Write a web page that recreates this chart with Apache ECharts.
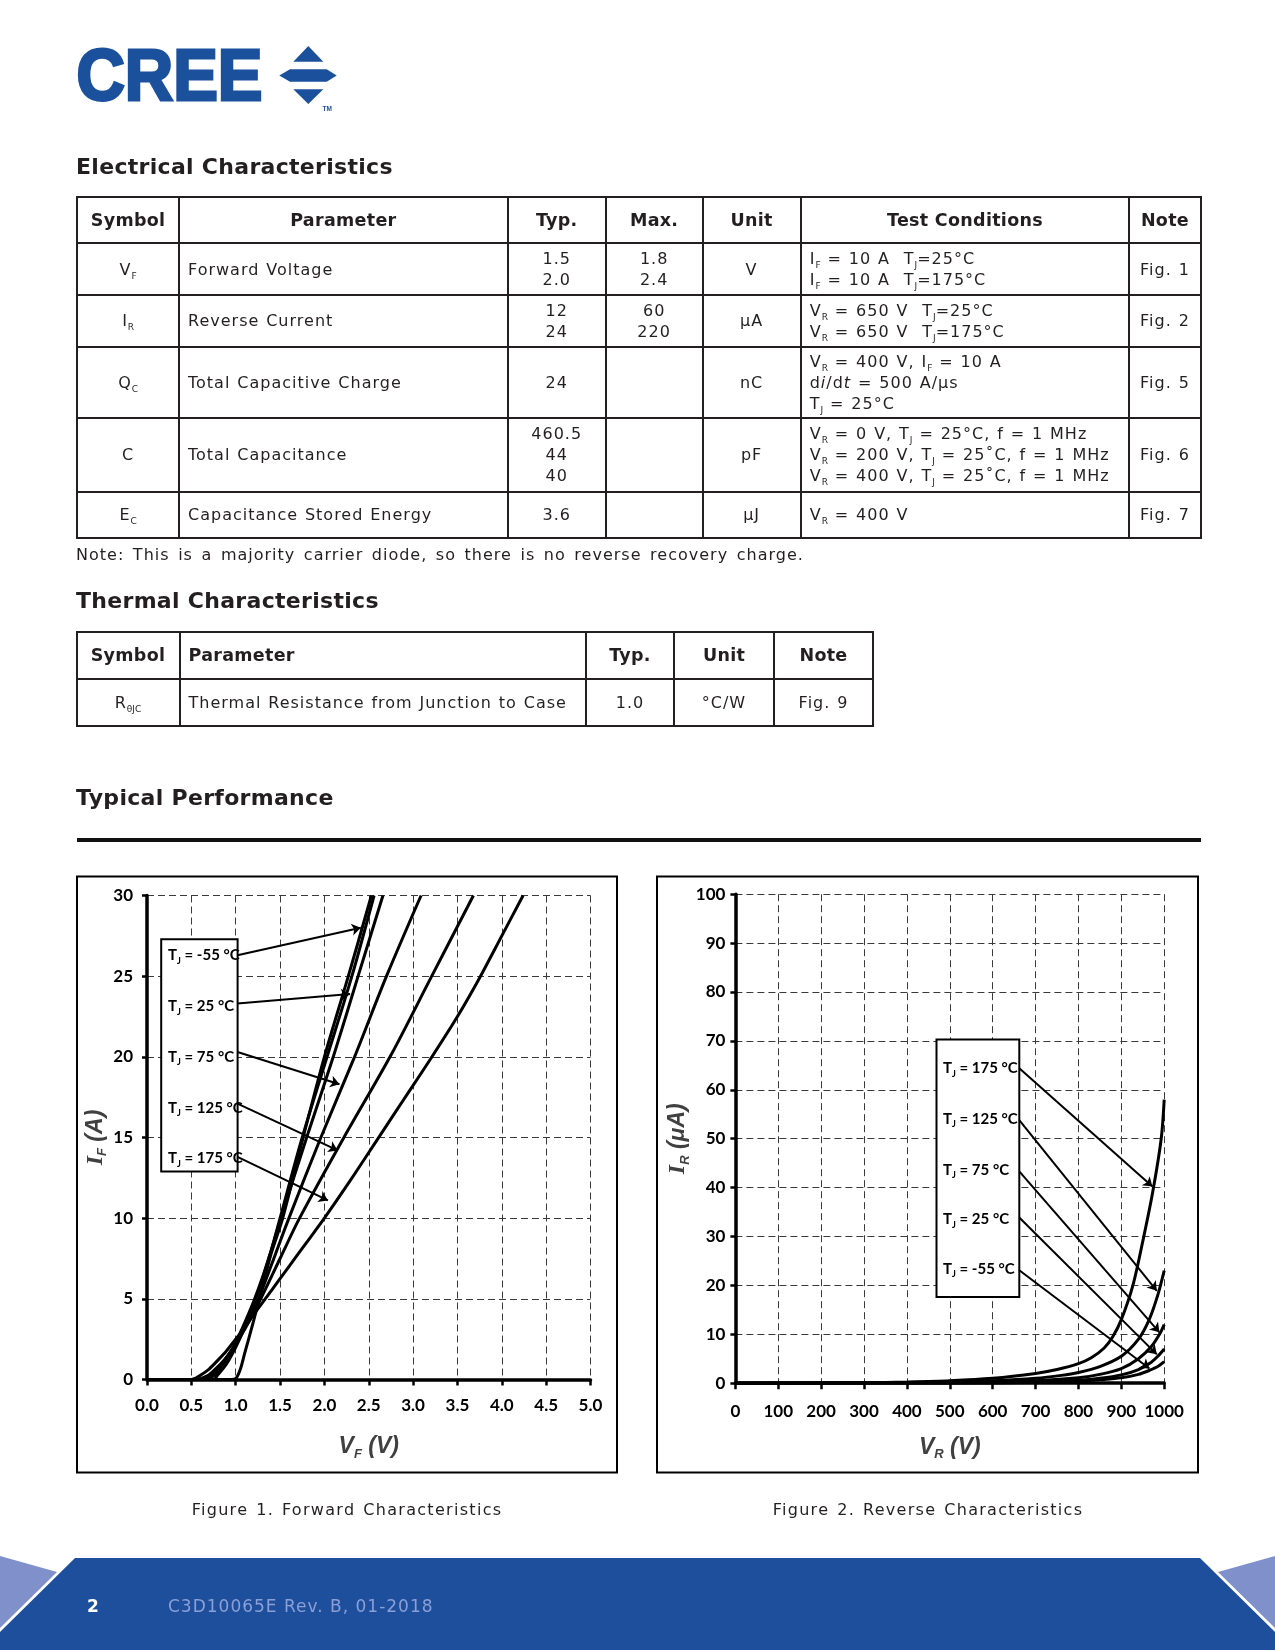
<!DOCTYPE html>
<html>
<head>
<meta charset="utf-8">
<title>C3D10065E – Electrical Characteristics and Typical Performance</title>
<script src="https://cdn.jsdelivr.net/npm/echarts@6.0.0/dist/echarts.min.js"></script>
<style>
  html, body { margin:0; padding:0; background:#fff; }
  #page { position:relative; width:1275px; height:1650px; overflow:hidden; color:#231f20;
          font-family:'DejaVu Sans', Verdana, sans-serif; }
  #chart { position:absolute; left:0; top:0; width:1275px; height:1650px; }
  .t { position:absolute; white-space:nowrap; }
  .head { font-family:'DejaVu Sans', Verdana, sans-serif; font-weight:700; font-size:22px; letter-spacing:0.3px; line-height:30px; height:30px; color:#231f20; }
  .cell { position:absolute; display:flex; align-items:center; font-size:16px; letter-spacing:1px; word-spacing:0.8px; }
  .cell > div { line-height:21px; white-space:nowrap; }
  .hdr { font-weight:bold; font-size:17.5px; letter-spacing:0.3px; word-spacing:0; }
  sub { font-size:9px; vertical-align:-4px; line-height:0; letter-spacing:0; }
  .ln { position:absolute; background:#231f20; }
  .body16 { font-size:16px; letter-spacing:1px; word-spacing:2.5px; line-height:21px; }
  .cap { font-size:16px; letter-spacing:1.3px; word-spacing:1.5px; line-height:21px; text-align:center; width:400px; }
</style>
</head>
<body>
<div id="page">
  <div id="chart"></div>

  <!-- Logo -->
  <svg class="t" style="left:0;top:0" width="400" height="130">
    <text x="76.5" y="100" font-family="'Liberation Sans', Arial, sans-serif" font-weight="bold" font-size="72"
          textLength="186" lengthAdjust="spacingAndGlyphs" fill="#1b519c" stroke="#1b519c" stroke-width="3">CREE</text>
    <polygon points="308.3,46 323.3,61.7 293.3,61.7" fill="#1b519c"/>
    <polygon points="279.3,75.5 290,69.3 326.7,69.3 336.7,75.5 326.7,81.7 290,81.7" fill="#1b519c"/>
    <polygon points="293.3,89.3 323.3,89.3 308.3,104" fill="#1b519c"/>
    <text x="322.5" y="110.5" font-family="'Liberation Sans', Arial, sans-serif" font-weight="bold" font-size="6.5" fill="#1b519c">TM</text>
  </svg>

  <div class="t head" style="left:76px;top:151.9px">Electrical Characteristics</div>
  <div id="tbl1"></div>
  <div class="t body16" style="left:76px;top:544px">Note: This is a majority carrier diode, so there is no reverse recovery charge.</div>

  <div class="t head" style="left:76px;top:585.9px">Thermal Characteristics</div>
  <div id="tbl2"></div>

  <div class="t head" style="left:76px;top:782.8px">Typical Performance</div>
  <div class="ln" style="left:77px;top:837.7px;width:1123.6px;height:4px;background:#111"></div>

  <div class="t cap" style="left:147px;top:1499px">Figure 1. Forward Characteristics</div>
  <div class="t cap" style="left:728px;top:1499px">Figure 2. Reverse Characteristics</div>

  <!-- Footer -->
  <svg class="t" style="left:0;top:1540px" width="1275" height="110">
    <polygon points="0,16 57,32 0,88" fill="#7f90ca"/>
    <polygon points="1275,16 1218,32 1275,88" fill="#7f90ca"/>
    <polygon points="75,18 1200,18 1275,92 1275,110 0,110 0,92" fill="#1e4f9c"/>
  </svg>
  <div class="t" style="left:87px;top:1595px;font-size:17px;font-weight:bold;color:#fff;line-height:23px">2</div>
  <div class="t" style="left:168px;top:1595px;font-size:17px;letter-spacing:1px;color:#8c9fd6;line-height:23px">C3D10065E Rev. B, 01-2018</div>
</div>

<script>
// ---------------- Table contents ----------------
const elecHeader = ['Symbol', 'Parameter', 'Typ.', 'Max.', 'Unit', 'Test Conditions', 'Note'];
const elecRows = [
  ['V<sub>F</sub>', 'Forward Voltage', '1.5<br>2.0', '1.8<br>2.4', 'V',
   'I<sub>F</sub> = 10 A&nbsp; T<sub>J</sub>=25°C<br>I<sub>F</sub> = 10 A&nbsp; T<sub>J</sub>=175°C', 'Fig. 1'],
  ['I<sub>R</sub>', 'Reverse Current', '12<br>24', '60<br>220', 'μA',
   'V<sub>R</sub> = 650 V&nbsp; T<sub>J</sub>=25°C<br>V<sub>R</sub> = 650 V&nbsp; T<sub>J</sub>=175°C', 'Fig. 2'],
  ['Q<sub>C</sub>', 'Total Capacitive Charge', '24', '', 'nC',
   'V<sub>R</sub> = 400 V, I<sub>F</sub> = 10 A<br>d<i>i</i>/d<i>t</i> = 500 A/μs<br>T<sub>J</sub> = 25°C', 'Fig. 5'],
  ['C', 'Total Capacitance', '460.5<br>44<br>40', '', 'pF',
   'V<sub>R</sub> = 0 V, T<sub>J</sub> = 25°C, f = 1 MHz<br>V<sub>R</sub> = 200 V, T<sub>J</sub> = 25˚C, f = 1 MHz<br>V<sub>R</sub> = 400 V, T<sub>J</sub> = 25˚C, f = 1 MHz', 'Fig. 6'],
  ['E<sub>C</sub>', 'Capacitance Stored Energy', '3.6', '', 'μJ', 'V<sub>R</sub> = 400 V', 'Fig. 7']
];
const thermHeader = ['Symbol', 'Parameter', 'Typ.', 'Unit', 'Note'];
const thermRows = [
  ['R<sub>θJC</sub>', 'Thermal Resistance from Junction to Case', '1.0', '°C/W', 'Fig. 9']
];

// table layout (page pixels)
const elecLayout = {
  cols: [77.3, 179, 507.7, 605.8, 702.5, 800.7, 1129.3, 1200.6],
  rows: [197.3, 243.3, 295, 346.7, 418.3, 491.7, 538.3],
  align: ['center', 'left', 'center', 'center', 'center', 'left', 'center'],
  headAlign: ['center', 'center', 'center', 'center', 'center', 'center', 'center']
};
const thermLayout = {
  cols: [76.5, 179.5, 586, 674, 774, 873],
  rows: [631.5, 679, 725.5],
  align: ['center', 'left', 'center', 'center', 'center'],
  headAlign: ['center', 'left', 'center', 'center', 'center']
};

function buildTable(host, layout, header, rows) {
  const el = document.getElementById(host);
  const { cols, rows: rEdges } = layout;
  let html = '';
  const top = rEdges[0], bottom = rEdges[rEdges.length - 1];
  const left = cols[0], right = cols[cols.length - 1];
  cols.forEach(x => { html += `<div class="ln" style="left:${x - 1}px;top:${top - 1}px;width:2px;height:${bottom - top + 2}px"></div>`; });
  rEdges.forEach(y => { html += `<div class="ln" style="left:${left - 1}px;top:${y - 1}px;width:${right - left + 2}px;height:2px"></div>`; });
  const all = [header].concat(rows);
  all.forEach((row, r) => {
    row.forEach((txt, c) => {
      const al = r === 0 ? layout.headAlign[c] : layout.align[c];
      const pad = al === 'left' ? 9 : 2;
      const x0 = cols[c] + pad, w = cols[c + 1] - cols[c] - pad - 2;
      const y0 = rEdges[r], h = rEdges[r + 1] - rEdges[r];
      const jc = al === 'left' ? 'flex-start' : 'center';
      html += `<div class="cell ${r === 0 ? 'hdr' : ''}" style="left:${x0}px;top:${y0}px;width:${w}px;height:${h}px;justify-content:${jc};text-align:${al}"><div>${txt}</div></div>`;
    });
  });
  el.innerHTML = html;
}
buildTable('tbl1', elecLayout, elecHeader, elecRows);
buildTable('tbl2', thermLayout, thermHeader, thermRows);

// ---------------- Figure 1: Forward characteristics [VF (V), IF (A)] ----------------
const fwdTjM55 = [[0,0],[0.95,0],[1.0,0.05],[1.05,0.6],[1.1,1.6],[1.2,3.6],[1.3,5.7],[1.4,7.8],[1.53,10],[1.76,15],[2.0,20],[2.27,25],[2.53,30]];
const fwdTj25  = [[0,0],[0.75,0],[0.8,0.3],[0.9,1.0],[1.0,2.0],[1.1,3.2],[1.2,4.6],[1.3,6.2],[1.4,8.0],[1.5,10],[1.75,15],[2.03,20],[2.31,25],[2.56,30]];
const fwdTjB    = [[0,0],[0.68,0],[0.72,0.1],[0.8,0.5],[0.9,1.3],[1.0,2.3],[1.1,3.5],[1.2,4.8],[1.3,6.3],[1.4,8.0],[1.51,10],[1.8,15],[2.1,20],[2.38,25],[2.66,30]];
const fwdTj75  = [[0,0],[0.62,0],[0.66,0.05],[0.7,0.2],[0.8,0.7],[0.9,1.4],[1.0,2.2],[1.1,3.2],[1.2,4.3],[1.3,5.6],[1.45,7.8],[1.6,10],[1.96,15],[2.34,20],[2.70,25],[3.09,30]];
const fwdTj125 = [[0,0],[0.56,0],[0.6,0.05],[0.7,0.3],[0.8,0.8],[0.9,1.4],[1.0,2.2],[1.1,3.1],[1.2,4.1],[1.3,5.2],[1.5,7.5],[1.72,10],[2.22,15],[2.74,20],[3.21,25],[3.68,30]];
const fwdTj175 = [[0,0],[0.5,0],[0.55,0.08],[0.6,0.25],[0.7,0.65],[0.8,1.2],[0.9,1.8],[1.0,2.5],[1.1,3.2],[1.2,4.0],[1.4,5.5],[1.6,7.0],[1.8,8.5],[2.0,10],[2.3,12.4],[2.6,14.9],[2.9,17.4],[3.2,19.9],[3.5,22.5],[3.76,25],[4.0,27.5],[4.24,30]];
const fwdLegend = ['-55', '25', '75', '125', '175'];
// annotation arrows: [V start, I start, V tip, I tip]
const fwdArrows = [[1.02,26.3,2.41,28.0],[1.02,23.3,2.29,23.9],[1.02,20.3,2.17,18.3],[1.02,17.1,2.15,14.2],[1.02,13.8,2.04,11.1]];

// ---------------- Figure 2: Reverse characteristics [VR (V), IR (µA)] ----------------
const revTj175 = [[0,0],[100,0.02],[200,0.05],[300,0.1],[400,0.25],[500,0.5],[600,1.0],[700,2.0],[750,2.8],[800,4.0],[830,5.2],[860,7.2],[880,9.5],[900,13],[927,20],[950,29],[973,39],[993,50],[1000,58]];
const revTj125 = [[0,0],[300,0.05],[400,0.1],[500,0.25],[600,0.5],[700,1.0],[760,1.6],[800,2.2],[850,3.4],[900,5.5],[940,9.0],[965,13],[985,18],[1000,23]];
const revTj75  = [[0,0],[400,0.05],[500,0.1],[600,0.25],[700,0.5],[800,1.1],[850,1.8],[900,3.0],[940,5.0],[970,7.5],[989,10],[1000,12]];
const revTj25  = [[0,0],[500,0.05],[600,0.1],[700,0.25],[800,0.6],[850,1.0],[900,1.7],[940,2.8],[970,4.3],[985,5.5],[1000,7]];
const revTjM55 = [[0,0],[600,0.05],[700,0.15],[800,0.4],[850,0.7],[900,1.1],[940,1.8],[965,2.6],[985,3.4],[1000,4.4]];
const revLegend = ['175', '125', '75', '25', '-55'];
const revArrows = [[662,64.4,972.5,40.2],[662,53.8,982.7,18.9],[662,43.3,988.8,10.4],[662,33.9,982.7,5.9],[662,23.1,965.5,3.0]];

// ---------------- Chart ----------------
const numFont = "Lato, 'Liberation Sans', Arial, sans-serif";
const chart = echarts.init(document.getElementById('chart'), null, { renderer: 'canvas' });

function curve(name, data, idx) {
  return { name, type: 'line', xAxisIndex: idx, yAxisIndex: idx, data, showSymbol: false,
           smooth: 0.3, lineStyle: { color: '#000', width: 3 },
           z: 150, silent: true, animation: false, clip: true };
}
function arrows(list, idx) {
  return { type: 'lines', coordinateSystem: 'cartesian2d', xAxisIndex: idx, yAxisIndex: idx,
           symbol: ['none', 'arrow'], symbolSize: [0, 9],
           lineStyle: { color: '#000', width: 2, opacity: 1, curveness: 0 },
           data: list.map(a => ({ coords: [[a[0], a[1]], [a[2], a[3]]] })),
           z: 200, silent: true, animation: false };
}
const split = { show: true, lineStyle: { color: '#3a3a3a', width: 1, type: [7, 4] } };
const axLine = { show: true, onZero: false, lineStyle: { color: '#000', width: 3.5 } };
const tick = { show: true, length: 6, lineStyle: { color: '#000', width: 2.5 } };
const lab = { color: '#000', fontWeight: 'bold', fontSize: 17, fontFamily: numFont, showMinLabel: true, showMaxLabel: true };
const nameRich = {
  a: { fontSize: 23, fontWeight: 'bold', fontStyle: 'italic', fontFamily: "'Liberation Sans', Arial, sans-serif", color: '#404040', lineHeight: 28 },
  i: { fontSize: 24, fontWeight: 'bold', fontStyle: 'italic', fontFamily: "'Liberation Serif', 'DejaVu Serif', serif", color: '#404040', lineHeight: 28 },
  b: { fontSize: 13, fontWeight: 'bold', fontStyle: 'italic', fontFamily: "'Liberation Sans', Arial, sans-serif", color: '#404040', lineHeight: 13, verticalAlign: 'bottom' }
};
const legRich = {
  a: { fontSize: 15, fontWeight: 'bold', fontFamily: numFont, color: '#000', lineHeight: 20 },
  b: { fontSize: 9, fontWeight: 'bold', fontFamily: numFont, color: '#000', lineHeight: 9, verticalAlign: 'bottom' }
};
function legendText(t, x, y) {
  return { type: 'text', z: 120, silent: true,
           style: { text: `{a|T}{b|J}{a| = ${t} °C}`, x, y, verticalAlign: 'middle', align: 'left', rich: legRich } };
}
function rect(x, y, w, h, fill, lw) {
  return { type: 'rect', z: 100, silent: true, shape: { x, y, width: w, height: h },
           style: { fill, stroke: '#000', lineWidth: lw } };
}

const fwdLegendY = [955.4, 1006.3, 1057, 1107.7, 1158.2];
const revLegendY = [1068.3, 1119, 1169.7, 1219.4, 1269];

const graphics = [
  rect(77, 876.5, 540, 596, 'rgba(0,0,0,0)', 2),
  rect(657, 876.5, 541, 596, 'rgba(0,0,0,0)', 2),
  rect(161.2, 939.3, 76.4, 232.3, '#fff', 2),
  rect(936.5, 1039.6, 82.8, 257.4, '#fff', 2)
];
fwdLegend.forEach((t, i) => graphics.push(legendText(t, 168, fwdLegendY[i])));
revLegend.forEach((t, i) => graphics.push(legendText(t, 943, revLegendY[i])));

chart.setOption({
  animation: false,
  backgroundColor: 'transparent',
  grid: [
    { left: 147, top: 895.5, width: 443.5, height: 484 },
    { left: 735.4, top: 894.2, width: 428.8, height: 489 }
  ],
  xAxis: [
    { type: 'value', gridIndex: 0, min: 0, max: 5, interval: 0.5,
      axisLine: axLine, axisTick: tick, splitLine: split,
      axisLabel: Object.assign({}, lab, { margin: 18, formatter: v => v.toFixed(1) }),
      name: '{a|V}{b|F}{a| (V)}', nameLocation: 'middle', nameGap: 53,
      nameTextStyle: { rich: nameRich } },
    { type: 'value', gridIndex: 1, min: 0, max: 1000, interval: 100,
      axisLine: axLine, axisTick: tick, splitLine: split,
      axisLabel: Object.assign({}, lab, { margin: 20, formatter: v => String(v) }),
      name: '{a|V}{b|R}{a| (V)}', nameLocation: 'middle', nameGap: 50,
      nameTextStyle: { rich: nameRich } }
  ],
  yAxis: [
    { type: 'value', gridIndex: 0, min: 0, max: 30, interval: 5,
      axisLine: axLine, axisTick: Object.assign({}, tick, { length: 5 }), splitLine: split,
      axisLabel: Object.assign({}, lab, { margin: 14, formatter: v => String(v) }),
      name: '{i|I}{b|F}{a| (A)}', nameLocation: 'middle', nameGap: 36, nameRotate: 90,
      nameTextStyle: { rich: nameRich } },
    { type: 'value', gridIndex: 1, min: 0, max: 100, interval: 10,
      axisLine: axLine, axisTick: Object.assign({}, tick, { length: 5 }), splitLine: split,
      axisLabel: Object.assign({}, lab, { margin: 10, formatter: v => String(v) }),
      name: '{i|I}{b|R}{a| (μA)}', nameLocation: 'middle', nameGap: 39, nameRotate: 90,
      nameTextStyle: { rich: nameRich } }
  ],
  series: [
    curve('TJ = -55 °C', fwdTjM55, 0),
    curve('TJ = 25 °C', fwdTj25, 0),
    curve('TJ = 25 °C (b)', fwdTjB, 0),
    curve('TJ = 75 °C', fwdTj75, 0),
    curve('TJ = 125 °C', fwdTj125, 0),
    curve('TJ = 175 °C', fwdTj175, 0),
    arrows(fwdArrows, 0),
    curve('TJ = 175 °C', revTj175, 1),
    curve('TJ = 125 °C', revTj125, 1),
    curve('TJ = 75 °C', revTj75, 1),
    curve('TJ = 25 °C', revTj25, 1),
    curve('TJ = -55 °C', revTjM55, 1),
    arrows(revArrows, 1)
  ],
  graphic: { elements: graphics }
});
</script>
</body>
</html>
